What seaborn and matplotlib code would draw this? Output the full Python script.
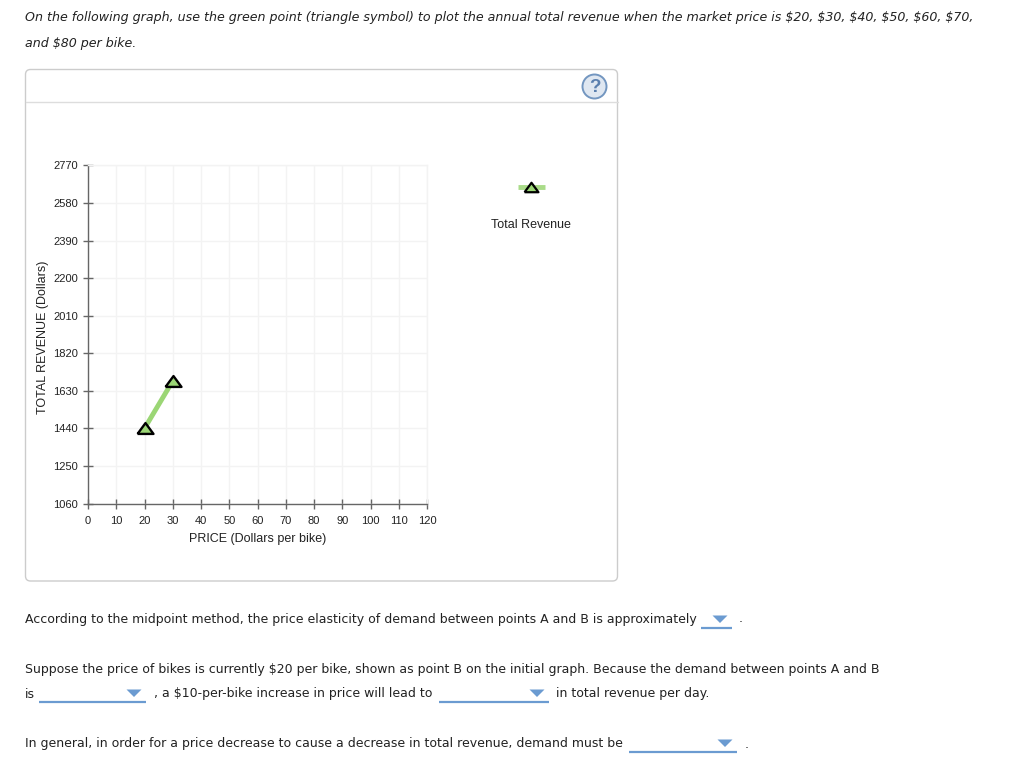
import numpy as np
import pandas as pd
import matplotlib
matplotlib.use("Agg")
import matplotlib.pyplot as plt
from matplotlib.patches import FancyBboxPatch, Circle, Polygon
import seaborn as sns

sns.set_theme(style="white")
plt.rcParams["font.family"] = ["Liberation Sans", "DejaVu Sans"]

# chart values
price = [20, 30]
revenue = [1440, 1680]
x_ticks = list(range(0, 130, 10))
y_ticks = [1060, 1250, 1440, 1630, 1820, 2010, 2200, 2390, 2580, 2770]

question = ("On the following graph, use the green point (triangle symbol) to plot the annual total "
            "revenue when the market price is \\$20, \\$30, \\$40, \\$50, \\$60, \\$70,")
question2 = "and \\$80 per bike."
para1 = "According to the midpoint method, the price elasticity of demand between points A and B is approximately"
para2 = ("Suppose the price of bikes is currently \\$20 per bike, shown as point B on the initial graph. "
         "Because the demand between points A and B")
para3a = "is"
para3b = ", a \\$10-per-bike increase in price will lead to"
para3c = "in total revenue per day."
para4 = "In general, in order for a price decrease to cause a decrease in total revenue, demand must be"

GREEN = "#9bd675"
BLUE = "#6b9bd1"
W, H = 1024, 762
# flat triangle like the one in the original graph tool
TRIANGLE = [(-1, -0.68), (1, -0.68), (0, 0.68), (-1, -0.68)]

fig = plt.figure(figsize=(W / 100, H / 100), dpi=100, facecolor="white")

# page layer in pixel coordinates
bg = fig.add_axes([0, 0, 1, 1], zorder=0)
bg.set_xlim(0, W)
bg.set_ylim(H, 0)
bg.axis("off")

bg.add_patch(FancyBboxPatch((25.5, 69.5), 592, 511.5, boxstyle="round,pad=0,rounding_size=5",
                            fc="white", ec="#cccccc", lw=1))
bg.plot([25.5, 617.5], [102, 102], color="#dddddd", lw=1)
bg.add_patch(Circle((594.5, 86.5), 12, fc="#dfe7f1", ec="#7396c0", lw=1.4))
bg.text(594.5, 87, "?", ha="center", va="center", fontsize=13.5, fontweight="bold", color="#5a7fae")

body = dict(family="DejaVu Sans", fontsize=8.99, color="#222222", va="center")
bg.text(25, 18, question, style="italic", **{**body, "fontsize": 9.1})
bg.text(25, 43, question2, style="italic", **{**body, "fontsize": 9.1})
bg.text(25, 619, para1, **body)
bg.text(25, 669, para2, **{**body, "fontsize": 9.03})
bg.text(25, 694, para3a, **body)
bg.text(154, 694, para3b, **body)
bg.text(556, 694, para3c, **body)
bg.text(25, 744, para4, **body)
bg.text(739, 619, ".", **body)
bg.text(745, 744, ".", **body)

# answer dropdowns
for x0, x1, tri, y in [(701, 732, 720, 628), (39, 146, 134, 702),
                       (439, 549, 537, 702), (629, 737, 725, 752)]:
    bg.plot([x0, x1], [y, y], color=BLUE, lw=1.6, solid_capstyle="butt")
    bg.add_patch(Polygon([(tri - 7.5, y - 12.5), (tri + 7.5, y - 12.5), (tri, y - 5)],
                         fc=BLUE, ec="none"))

# legend key
bg.plot([518, 545], [186.5, 186.5], color=GREEN, lw=3.5, solid_capstyle="butt", alpha=0.85)
bg.plot([531], [187], marker=TRIANGLE, ms=10, mfc=GREEN, mec="black", mew=1.6, ls="none")
bg.text(531, 224.5, "Total Revenue", ha="center", va="center", fontsize=9, color="#222222")

# main chart
x0, x1, y_top, y_bot = 88, 427, 165.5, 503.5
ax = fig.add_axes([x0 / W, 1 - y_bot / H, (x1 - x0) / W, (y_bot - y_top) / H], zorder=1)
ax.patch.set_alpha(0)

df = pd.DataFrame({"price": price, "revenue": revenue})
sns.lineplot(data=df, x="price", y="revenue", ax=ax, color=GREEN, lw=3.5, zorder=3,
             solid_capstyle="butt", clip_on=False)
ax.plot(price, revenue, ls="none", marker=TRIANGLE, ms=11.5, mfc=GREEN, mec="black", mew=1.7,
        zorder=4, clip_on=False)

ax.set_xlim(0, 120)
ax.set_ylim(1060, 2770)
ax.set_xticks(x_ticks)
ax.set_yticks(y_ticks)
ax.grid(True, color="#f3f3f3", lw=1)
ax.set_axisbelow(True)
for side in ["top", "right"]:
    ax.spines[side].set_color("#f3f3f3")
    ax.spines[side].set_linewidth(1)
for side in ["left", "bottom"]:
    ax.spines[side].set_color("#666666")
    ax.spines[side].set_linewidth(1)
ax.tick_params(axis="both", direction="inout", length=6.5, width=1, color="#666666",
               labelsize=8, labelcolor="#222222", bottom=True, left=True)
ax.tick_params(axis="x", pad=5.7)
ax.tick_params(axis="y", pad=4)
ax.set_xlabel("PRICE (Dollars per bike)", fontsize=9, color="#222222", va="center")
ax.set_ylabel("TOTAL REVENUE (Dollars)", fontsize=9, color="#222222", va="center")
ax.xaxis.set_label_coords(0.5, -0.105)
ax.yaxis.set_label_coords(-0.134, 0.4926)

fig.savefig("out.png", dpi=100)
